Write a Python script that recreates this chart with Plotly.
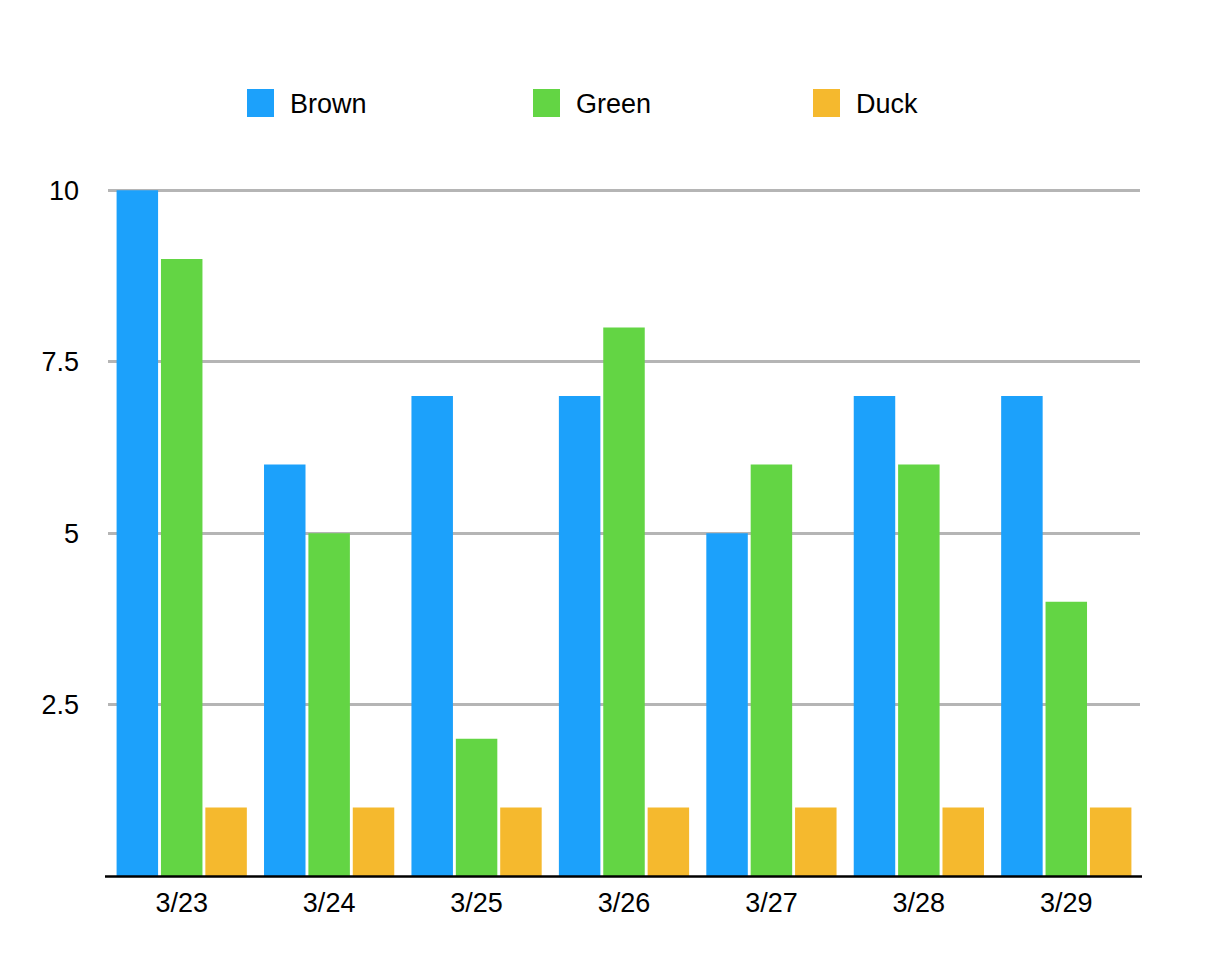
import plotly.graph_objects as go

categories = ["3/23", "3/24", "3/25", "3/26", "3/27", "3/28", "3/29"]
brown = [10, 6, 7, 7, 5, 7, 7]
green = [9, 5, 2, 8, 6, 6, 4]
duck = [1, 1, 1, 1, 1, 1, 1]
series_names = ["Brown", "Green", "Duck"]
series_colors = ["#1ca1fb", "#63d544", "#f5b92e"]
y_tick_vals = [2.5, 5, 7.5, 10]
y_tick_text = ["2.5", "5", "7.5", "10"]

# page body has an 8px margin; figure sized so nothing overflows
OFF = 8
W, H = 1209, 959
L, R, T, B = 100, 77, 181, 91
pw, ph = W - L - R, H - T - B
Y_MAX = 10.02

FONT = "Liberation Sans, Arial, Helvetica, sans-serif"
FS = 27

fig = go.Figure()
for name, vals, col in zip(series_names, [brown, green, duck], series_colors):
    fig.add_trace(go.Bar(x=categories, y=vals, name=name, marker_color=col,
                         marker_line_width=0, showlegend=False))

# helpers converting screenshot pixels to paper coordinates
def px_x(p):
    return (p - OFF - L) / pw

def px_y(p):
    return (OFF + H - B - p) / ph

shapes = []
annotations = []
legend_x = [247, 533, 813]
for lx, name, col in zip(legend_x, series_names, series_colors):
    shapes.append(dict(type="rect", xref="paper", yref="paper",
                       x0=px_x(lx), x1=px_x(lx + 27), y0=px_y(117), y1=px_y(89),
                       fillcolor=col, line_width=0))
    annotations.append(dict(xref="paper", yref="paper", x=px_x(lx + 41), y=px_y(104),
                            text=name, showarrow=False, xanchor="left", yanchor="middle",
                            font=dict(family=FONT, size=FS, color="black")))

# baseline (paper-referenced so it is not clipped by the plot area)
shapes.append(dict(type="line", xref="paper", yref="paper", x0=px_x(105), x1=px_x(1142),
                   y0=px_y(876.5), y1=px_y(876.5), line=dict(color="black", width=2.5)))

fig.update_layout(
    width=W, height=H,
    margin=dict(l=L, r=R, t=T, b=B),
    paper_bgcolor="white", plot_bgcolor="white",
    barmode="group", bargap=0.097, bargroupgap=0.065,
    font=dict(family=FONT, size=FS, color="black"),
    shapes=shapes, annotations=annotations,
    showlegend=False,
)
fig.update_xaxes(showgrid=False, zeroline=False, showline=False, ticks="",
                 tickfont=dict(family=FONT, size=FS, color="black"),
                 ticklabelstandoff=8)
fig.update_yaxes(range=[0, Y_MAX], tickvals=y_tick_vals, ticktext=y_tick_text,
                 showgrid=True, gridcolor="#b5b5b5", gridwidth=3,
                 zeroline=False, showline=False, ticks="",
                 tickfont=dict(family=FONT, size=FS, color="black"),
                 ticklabelstandoff=28)

fig.write_html("out.html")
